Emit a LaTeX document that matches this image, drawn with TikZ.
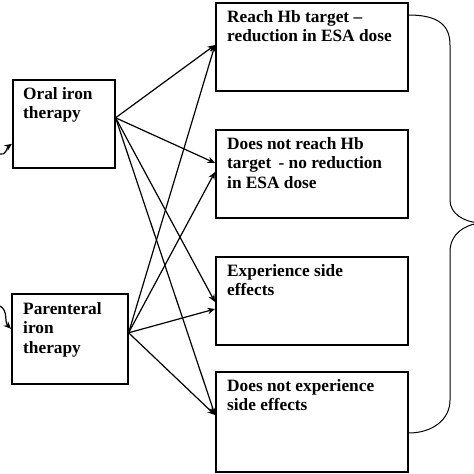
\documentclass[tikz,border=0pt]{standalone}
\usepackage{fontspec}
\setmainfont{Liberation Serif}
\usetikzlibrary{positioning,calc,arrows.meta}

\begin{document}
\begin{tikzpicture}[x=1pt,y=-1pt,>={Stealth[length=7.5pt,width=6.5pt]},
  every node/.style={font=\fontsize{17.3}{19.5}\selectfont\bfseries,align=left},
  box/.style={draw,line width=1.6pt,anchor=north west,inner sep=0pt},
  txt/.style={anchor=north west,inner sep=0pt},
  link/.style={->,line width=1.2pt}]
\useasboundingbox (0,0) rectangle (474,474);
\clip (0,0) rectangle (474,474);

% treatment options
\node[box,minimum width=102pt,minimum height=88pt] (oral)  at (12,79)  {};
\node[box,minimum width=116pt,minimum height=90pt] (paren) at (11,293) {};
\node[txt] (oraltxt)  at ($(oral.north west)+(11,8)$)  {Oral iron\\therapy};
\node[txt] (parentxt) at ($(paren.north west)+(12,9)$) {Parenteral\\iron\\therapy};

% outcomes
\node[box,minimum width=192pt,minimum height=88pt]  (reach)   at (215,2)   {};
\node[box,minimum width=192pt,minimum height=88pt]  (noreach) at (215,129) {};
\node[box,minimum width=192pt,minimum height=88pt]  (side)    at (215,256) {};
\node[box,minimum width=192pt,minimum height=100pt] (noside)  at (215,371) {};
\node[txt] (reachtxt)   at ($(reach.north west)+(12,8)$)   {Reach Hb target --\\reduction in ESA dose};
\node[txt] (noreachtxt) at ($(noreach.north west)+(12,8)$) {Does not reach Hb\\target\, - no reduction\\in ESA dose};
\node[txt] (sidetxt)    at ($(side.north west)+(12,8)$)    {Experience side\\effects};
\node[txt] (nosidetxt)  at ($(noside.north west)+(12,8)$)  {Does not experience\\side effects};

% incoming from the left
\coordinate (inoral)  at (0,154);
\coordinate (inparen) at (0,306);
\draw[link] (inoral)  to[out=-20,in=215] ([yshift=-20pt]oral.west);
\draw[link] (inparen) to[out=-30,in=135] ([yshift=10pt]paren.west);

\path ([yshift=6pt]oral.east)  edge[link] ([yshift=-43pt]reach.north west);
\path ([yshift=6pt]oral.east)  edge[link] ([yshift=-34pt]noreach.north west);
\path ([yshift=6pt]oral.east)  edge[link] ([yshift=-46pt]side.north west);
\path ([yshift=6pt]oral.east)  edge[link] ([yshift=-44pt]noside.north west);
\path ([yshift=6pt]paren.east) edge[link] ([yshift=-43pt]reach.north west);
\path ([yshift=6pt]paren.east) edge[link] ([yshift=-43pt]noreach.north west);
\path ([yshift=6pt]paren.east) edge[link] ([yshift=-53pt]side.north west);
\path ([yshift=6pt]paren.east) edge[link] ([yshift=-44pt]noside.north west);

% brace
\draw[line width=1pt] ([yshift=-13pt]reach.north east)
  .. controls (438,15) and (450,25) .. (450,45) -- (450,200)
  .. controls (450,214) and (464,222) .. (480,223)
  .. controls (464,225) and (450,234) .. (450,252) -- (450,400)
  .. controls (450,420) and (432,433) .. ([yshift=-62pt]noside.north east);
\end{tikzpicture}
\end{document}
